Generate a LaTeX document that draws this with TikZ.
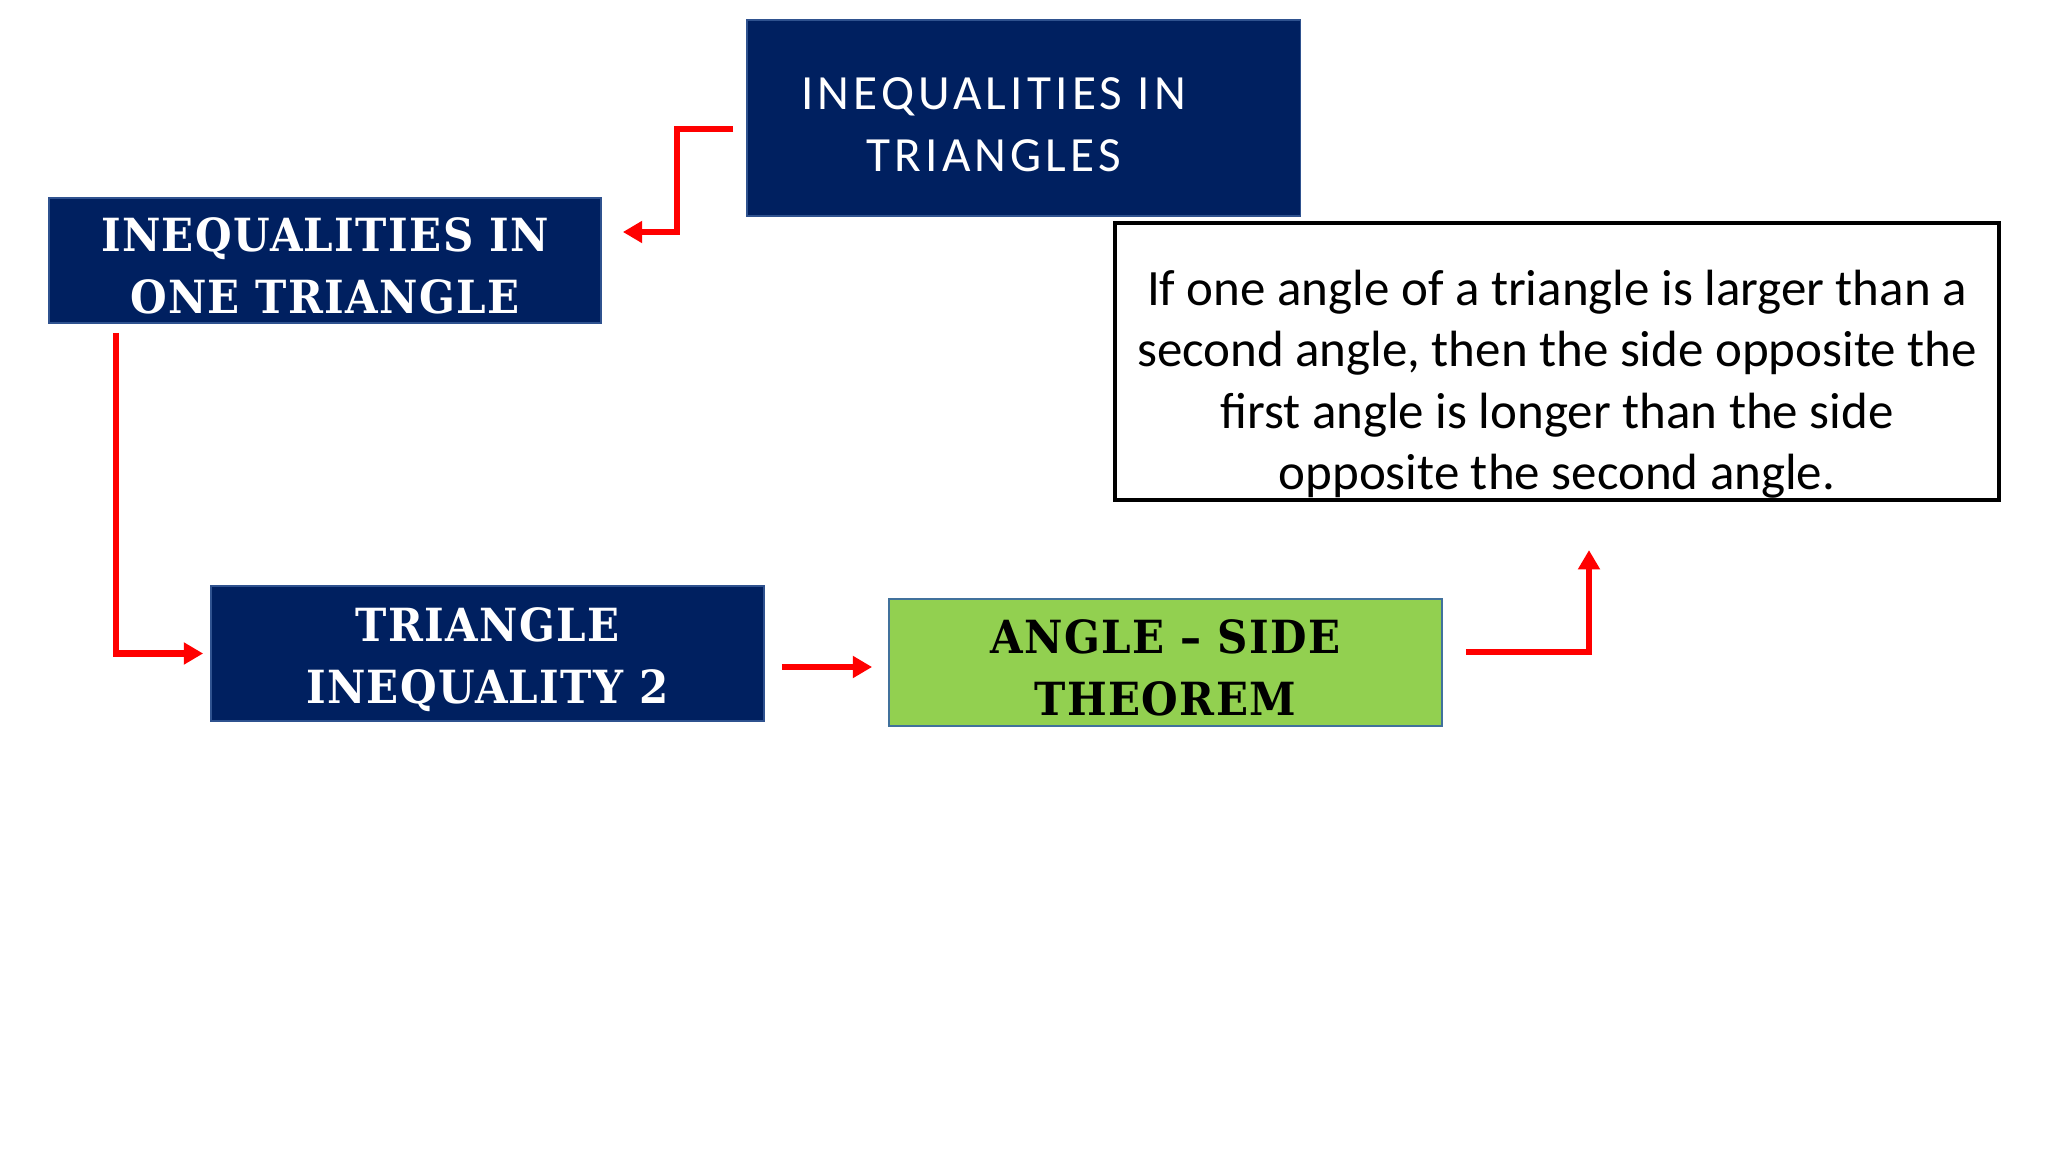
\documentclass[tikz,border=0pt]{standalone}
\usepackage{fontspec}
\setmainfont{Carlito}
\newfontfamily\boxserif[LetterSpace=3, FakeStretch=0.92]{DejaVu Serif}
\newfontfamily\toplight[LetterSpace=8.5]{Carlito}
\usetikzlibrary{arrows.meta}

\definecolor{navy}{HTML}{002060}
\definecolor{navyedge}{HTML}{2F528F}
\definecolor{leaf}{HTML}{92D050}
\definecolor{leafedge}{HTML}{41719C}

\newcommand{\capstrut}{\rule{0pt}{0.455cm}}

\begin{document}
\begin{tikzpicture}[%
        line width = 0.5pt,
        font = \fontsize{14.5}{17.5}\selectfont,
        topicbox/.style = {
            fill = navy,
            draw = navyedge,
            text = white,
            align = center,
            inner sep = 0pt,
            minimum width = 5.53cm,
            font = \boxserif\bfseries\fontsize{13}{17.6}\selectfont
        },
        leafbox/.style = {
            topicbox,
            fill = leaf,
            draw = leafedge,
            text = black
        },
        notebox/.style = {
            draw = black,
            line width = 1.2pt,
            align = center,
            inner sep = 0pt,
            minimum width = 8.84cm,
            minimum height = 2.77cm
        },
        flow/.style = {
            draw = red,
            line width = 1.9pt,
            -{Triangle[length=5.5pt,width=6pt]}
        }
    ]

        \useasboundingbox (0,0) rectangle (20.48,-11.52);

        % The boxes.
        \node[topicbox, minimum width = 5.535cm, minimum height = 1.96cm,
              font = \toplight\fontsize{14}{17.6}\selectfont]
            (top) at (10.2375,-1.18)
            {\capstrut INEQUALITIES IN\hspace*{0.6cm}\\TRIANGLES\hspace*{0.6cm}};
        \node[topicbox, minimum width = 5.52cm, minimum height = 1.25cm]
            (one) at (3.25,-2.605) {\capstrut INEQUALITIES IN\\ONE TRIANGLE};
        \node[topicbox, minimum height = 1.35cm]
            (ineq) at (4.875,-6.535) {\capstrut TRIANGLE\\INEQUALITY 2};
        \node[leafbox, minimum height = 1.27cm]
            (angside) at (11.655,-6.625) {\capstrut ANGLE – SIDE\\THEOREM};
        \node[notebox] (note) at (15.57,-3.615)
            {\rule{0pt}{0.81cm}If one angle of a triangle is larger than a\\
             second angle, then the side opposite the\\
             first angle is longer than the side\\
             opposite the second angle.};

        % Red connectors between the boxes.
        \draw[flow] ([xshift=-0.13cm, yshift=-0.11cm]top.west)
            -- ++(-0.56,0) |- ([xshift=0.21cm, yshift=0.285cm]one.east);
        \draw[flow] ([xshift=-2.09cm, yshift=-0.09cm]one.south)
            |- ([xshift=-0.07cm]ineq.west);
        \draw[flow] ([xshift=0.17cm, yshift=-0.135cm]ineq.east)
            -- ([xshift=-0.16cm, yshift=-0.045cm]angside.west);
        \draw[flow] ([xshift=0.23cm, yshift=0.105cm]angside.east)
            -| ([xshift=0.32cm, yshift=-0.48cm]note.south);
    \end{tikzpicture}
\end{document}
